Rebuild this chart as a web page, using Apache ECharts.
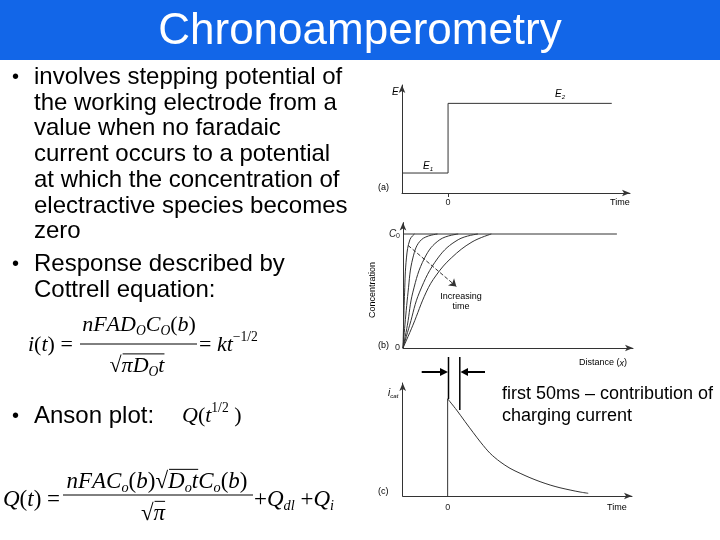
<!DOCTYPE html>
<html><head><meta charset="utf-8">
<script src="https://cdn.jsdelivr.net/npm/echarts@6/dist/echarts.min.js"></script>
<style>html,body{margin:0;padding:0;background:#fff}#c{width:720px;height:540px}</style>
</head><body><div id="c"></div>
<script>
// ---------- data ----------
// (a) potential step
const stepTime = [0, 20.2, 20.2, 92];
const stepPotential = [0.185, 0.185, 0.83, 0.83];
const stepTickValues = [20.2];
// (b) concentration profiles
const bulkDistance = [0, 93];
const bulkConc = [1, 1];
const profile1X = [0, 0.7, 1.5, 3, 5];
const profile1Y = [0, 0.49, 0.79, 0.95, 1];
const profile2X = [0, 2.2, 4.3, 8, 15];
const profile2Y = [0, 0.49, 0.79, 0.95, 1];
const profile3X = [0, 1.9, 4.3, 9.4, 16, 24];
const profile3Y = [0, 0.2, 0.49, 0.79, 0.95, 1];
const profile4X = [0, 2.9, 7.2, 15.2, 24, 32.6];
const profile4Y = [0, 0.2, 0.49, 0.79, 0.95, 1];
const profile5X = [0, 4.3, 10.1, 14.5, 21, 30, 38.4];
const profile5Y = [0, 0.2, 0.49, 0.64, 0.79, 0.93, 1];
const timeArrowFrom = [2.2, 0.9];
const timeArrowTo = [23.2, 0.54];
// (c) current transient
const currentStepX = [19.6, 19.6];
const currentStepY = [0, 0.86];
const currentTime = [19.6, 23.5, 27.2, 30.8, 34.2, 38.1, 42.4, 46.8, 51.2, 55.5, 59.9, 64.3, 68.6, 73.0, 77.4, 80.9];
const currentValue = [0.86, 0.761, 0.658, 0.56, 0.47, 0.378, 0.304, 0.245, 0.201, 0.162, 0.127, 0.097, 0.073, 0.053, 0.035, 0.024];

const bodyLines = [
  'involves stepping potential of',
  'the working electrode from a',
  'value when no faradaic',
  'current occurs to a potential',
  'at which the concentration of',
  'electractive species becomes',
  'zero',
  'Response described by',
  'Cottrell equation:'
];

// ---------- helpers ----------
const SANS = "'Liberation Sans', Arial, sans-serif";
const SERIF = "'Liberation Serif', 'Times New Roman', serif";
const mc = document.createElement('canvas').getContext('2d');
function fontOf(kind, size, fam) {
  const it = kind === 'i' || kind === 'sub';
  const s = (kind === 'sub' || kind === 'sup') ? size * 0.62 : size;
  return (it ? 'italic ' : '') + (Math.round(s * 10) / 10) + 'px ' + fam;
}
function build(tokens, size, fam) {
  fam = fam || SERIF;
  let x = 0; const items = []; let bs = null; const bars = [];
  for (const t of tokens) {
    if (t === '[') { bs = x; continue; }
    if (t === ']') { bars.push([bs, x]); continue; }
    const s = t[0], k = t[1];
    const f = fontOf(k, size, fam);
    mc.font = f;
    const w = mc.measureText(s).width;
    const dy = k === 'sub' ? size * 0.28 : (k === 'sup' ? -size * 0.36 : 0);
    items.push({ s, f, x, dy });
    x += w;
  }
  return { items, bars, width: x, size };
}
function place(row, x0, y, align) {
  const ox = align === 'center' ? x0 - row.width / 2 : x0;
  const els = [];
  row.items.forEach(it => els.push({
    type: 'text', x: ox + it.x, y: y + it.dy, silent: true,
    style: { text: it.s, font: it.f, fill: '#000', textAlign: 'left', textVerticalAlign: 'middle' }
  }));
  row.bars.forEach(b => els.push({
    type: 'line', silent: true,
    shape: { x1: ox + b[0] + 1, y1: y - row.size * 0.55, x2: ox + b[1], y2: y - row.size * 0.55 },
    style: { stroke: '#000', lineWidth: 1 }
  }));
  return els;
}
function txt(text, x, y, font, opts) {
  return Object.assign({
    type: 'text', x, y, silent: true,
    style: Object.assign({ text, font, fill: '#000', textAlign: 'left', textVerticalAlign: 'middle' }, (opts && opts.style) || {})
  }, (opts && opts.el) || {});
}
function hline(x1, y1, x2, y2, w) {
  return { type: 'line', silent: true, shape: { x1, y1, x2, y2 }, style: { stroke: '#000', lineWidth: w || 1 } };
}
const zip = (a, b) => a.map((v, i) => [v, b[i]]);

// ---------- graphics ----------
const G = [];
G.push({ type: 'rect', shape: { x: 0, y: 0, width: 720, height: 60 }, style: { fill: '#1266e8' }, silent: true });
G.push(txt('Chronoamperometry', 360, 32, '44px ' + SANS, { style: { fill: '#fff', textAlign: 'center' } }));

const lineY = [77, 103, 128.6, 154.4, 180, 206, 231.8, 264, 290];
bodyLines.forEach((s, i) => G.push(txt(s, 34, lineY[i], '24px ' + SANS)));
G.push(txt('•', 12, 77, '20px ' + SANS));
G.push(txt('•', 12, 264, '20px ' + SANS));
G.push(txt('•', 12, 416, '20px ' + SANS));
G.push(txt('Anson plot:', 34, 416, '24px ' + SANS));

// Cottrell equation
const E1 = 22;
G.push(...place(build([['i','i'],['(','r'],['t','i'],[')','r'],[' =','r']], E1), 28, 345, 'left'));
G.push(...place(build([['n','i'],['F','i'],['A','i'],['D','i'],['O','sub'],['C','i'],['O','sub'],['(','r'],['b','i'],[')','r']], E1), 139, 325, 'center'));
G.push(hline(80, 344, 197, 344, 1));
G.push(...place(build([['√','r'],'[',['π','i'],['D','i'],['O','sub'],['t','i'],']'], E1), 137, 366, 'center'));
G.push(...place(build([['= ','r'],['k','i'],['t','i'],['−1/2','sup']], E1), 199, 345, 'left'));

// Anson
G.push(...place(build([['Q','i'],['(','r'],['t','i'],['1/2','sup'],[' )','r']], 22), 182, 416, 'left'));

// Integrated Cottrell
const E2 = 23;
G.push(...place(build([['Q','i'],['(','r'],['t','i'],[')','r'],[' =','r']], E2), 3, 500, 'left'));
G.push(...place(build([['n','i'],['F','i'],['A','i'],['C','i'],['o','sub'],['(','r'],['b','i'],[')','r'],['√','r'],'[',['D','i'],['o','sub'],['t','i'],']',['C','i'],['o','sub'],['(','r'],['b','i'],[')','r']], E2), 157, 482, 'center'));
G.push(hline(63, 495, 253, 495, 1));
G.push(...place(build([['√','r'],'[',['π','i'],']'], E2), 153, 514, 'center'));
G.push(...place(build([['+','r'],['Q','i'],['dl','sub'],[' +','r'],['Q','i'],['i','sub']], E2), 254, 500, 'left'));

// plot labels
const L = '9px ' + SANS;
G.push(...place(build([['E','i']], 10, SANS), 392, 92, 'left'));
G.push(...place(build([['E','i'],['2','sub']], 10, SANS), 555, 94, 'left'));
G.push(...place(build([['E','i'],['1','sub']], 10, SANS), 423, 166, 'left'));
G.push(txt('(a)', 378, 188, L));
G.push(txt('Time', 610, 203, L));
G.push(txt('Concentration', 373, 290, L, { el: { rotation: Math.PI / 2 }, style: { textAlign: 'center' } }));
G.push(txt('(b)', 378, 346, L));
G.push(txt('Increasing', 461, 297, L, { style: { textAlign: 'center' } }));
G.push(txt('time', 461, 307, L, { style: { textAlign: 'center' } }));
G.push(...place(build([['Distance (','r'],['x','i'],[')','r']], 9, SANS), 579, 363, 'left'));
G.push(...place(build([['i','i'],['cat','sub']], 10, SANS), 388, 393, 'left'));
G.push(txt('(c)', 378, 492, L));
G.push(txt('Time', 607, 508, L));

// 50 ms annotation
G.push(hline(448.5, 357, 448.5, 399, 1.5));
G.push(hline(459.8, 357, 459.8, 410, 1.5));
G.push(hline(421.7, 372, 442, 372, 2));
G.push({ type: 'polygon', silent: true, shape: { points: [[448, 372], [440, 368], [440, 376]] }, style: { fill: '#000' } });
G.push(hline(466, 372, 485, 372, 2));
G.push({ type: 'polygon', silent: true, shape: { points: [[460.5, 372], [468, 368], [468, 376]] }, style: { fill: '#000' } });
G.push(txt('first 50ms – contribution of', 502, 394, '18px ' + SANS));
G.push(txt('charging current', 502, 416, '18px ' + SANS));

// ---------- chart ----------
const AX = '#333';
function axisX(gi, opt) {
  return Object.assign({
    gridIndex: gi, type: 'value', min: 0, max: 100,
    axisLine: { show: true, onZero: false, symbol: ['none', 'arrow'], symbolSize: [5, 8], lineStyle: { color: AX, width: 1 } },
    axisTick: { show: false }, axisLabel: { show: false }, splitLine: { show: false }
  }, opt || {});
}
function axisY(gi, max, opt) {
  return Object.assign({
    gridIndex: gi, type: 'value', min: 0, max: max,
    axisLine: { show: true, onZero: false, symbol: ['none', 'arrow'], symbolSize: [5, 8], lineStyle: { color: AX, width: 1 } },
    axisTick: { show: false }, axisLabel: { show: false }, splitLine: { show: false }
  }, opt || {});
}
function ln(gi, data, smooth, extra) {
  return Object.assign({
    type: 'line', xAxisIndex: gi, yAxisIndex: gi, data, smooth: smooth || false,
    symbol: 'none', silent: true, lineStyle: { color: '#333', width: 1 }
  }, extra || {});
}

const chart = echarts.init(document.getElementById('c'));
chart.setOption({
  animation: false,
  backgroundColor: '#fff',
  grid: [
    { left: 402, top: 85, width: 228, height: 108 },
    { left: 403, top: 222.6, width: 230, height: 125.4 },
    { left: 402.7, top: 383, width: 229.3, height: 113 }
  ],
  xAxis: [
    axisX(0, {
      axisTick: { show: true, customValues: stepTickValues, length: 4, lineStyle: { color: AX } },
      axisLabel: { show: true, customValues: stepTickValues, formatter: () => '0', fontSize: 9, color: '#222', margin: 5, fontFamily: SANS }
    }),
    axisX(1),
    axisX(2, {
      axisLabel: { show: true, customValues: [19.6], formatter: () => '0', fontSize: 9, color: '#222', margin: 7, fontFamily: SANS }
    })
  ],
  yAxis: [
    axisY(0, 1),
    axisY(1, 1.1, {
      axisLabel: {
        show: true, customValues: [0, 1], margin: 3, fontSize: 9, color: '#222', fontFamily: SANS,
        formatter: v => v >= 1 ? '{c|C}{s|0}' : '0',
        rich: { c: { fontSize: 10, fontStyle: 'italic', fontFamily: SANS, color: '#222' }, s: { fontSize: 7, fontFamily: SANS, color: '#222', padding: [5, 0, 0, 0] } }
      }
    }),
    axisY(2, 1)
  ],
  series: [
    ln(0, zip(stepTime, stepPotential)),
    ln(1, zip(bulkDistance, bulkConc), false, {
      markLine: {
        silent: true, symbol: ['none', 'arrow'], symbolSize: 7,
        lineStyle: { type: 'dashed', color: '#333', width: 1 }, label: { show: false },
        data: [[{ coord: timeArrowFrom }, { coord: timeArrowTo }]]
      }
    }),
    ln(1, zip(profile1X, profile1Y), 0.4),
    ln(1, zip(profile2X, profile2Y), 0.4),
    ln(1, zip(profile3X, profile3Y), 0.4),
    ln(1, zip(profile4X, profile4Y), 0.4),
    ln(1, zip(profile5X, profile5Y), 0.4),
    ln(2, zip(currentStepX, currentStepY)),
    ln(2, zip(currentTime, currentValue), 0.3)
  ],
  graphic: G
});
</script></body></html>
